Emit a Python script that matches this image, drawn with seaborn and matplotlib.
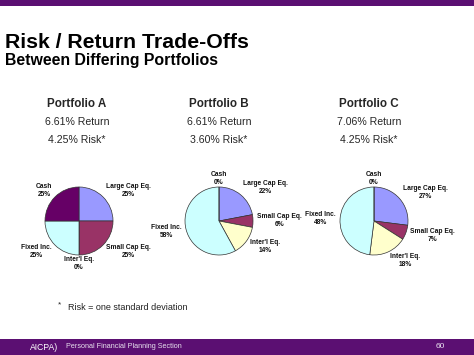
import numpy as np
import pandas as pd
from matplotlib import pyplot as plt
import seaborn as sns

# asset classes, clockwise from 12 o'clock
assets = ['Large Cap Eq.', 'Small Cap Eq.', "Inter'l Eq.", 'Fixed Inc.', 'Cash']
colors = ['#9999ff', '#993366', '#ffffcc', '#ccffff', '#660066']

portfolios = ['Portfolio A', 'Portfolio B', 'Portfolio C']
returns = ['6.61% Return', '6.61% Return', '7.06% Return']
risks = ['4.25% Risk*', '3.60% Risk*', '4.25% Risk*']
alloc_a = [25, 25, 0, 25, 25]
alloc_b = [22, 6, 14, 58, 0]
alloc_c = [27, 7, 18, 48, 0]

df = pd.DataFrame({'asset': assets, 'A': alloc_a, 'B': alloc_b, 'C': alloc_c})

sns.set_theme(style='white')
plt.rcParams['font.family'] = ['Liberation Sans', 'DejaVu Sans']

W, H = 474, 355
fig = plt.figure(figsize=(W / 100, H / 100), dpi=100)
fig.patch.set_facecolor('white')

purple = '#5b0f72'


def fx(x):
    return x / W


def fy(y):
    return 1 - y / H


# top and bottom bands
fig.add_artist(plt.Rectangle((0, fy(6)), 1, 6 / H, transform=fig.transFigure,
                             color=purple, lw=0))
fig.add_artist(plt.Rectangle((0, 0), 1, 16 / H, transform=fig.transFigure,
                             color=purple, lw=0))

fig.text(fx(5), fy(42), 'Risk / Return Trade-Offs', fontsize=15.3,
         fontweight='bold', va='center', ha='left', color='black')
fig.text(fx(5), fy(61), 'Between Differing Portfolios', fontsize=11.4,
         fontweight='bold', va='center', ha='left', color='black')

centers_x = [77, 219, 369]
pie_x = [79, 219, 374]
pie_y = 221
r = 34
half = 80

for i, col in enumerate(['A', 'B', 'C']):
    fig.text(fx(centers_x[i]), fy(104), portfolios[i], fontsize=8.4,
             fontweight='bold', ha='center', va='center')
    fig.text(fx(centers_x[i]), fy(122), returns[i], fontsize=7.6,
             ha='center', va='center')
    fig.text(fx(centers_x[i]), fy(140), risks[i], fontsize=7.6,
             ha='center', va='center')

    ax = fig.add_axes([fx(pie_x[i] - half), fy(pie_y + half),
                       2 * half / W, 2 * half / H])
    vals = df[col].values
    labels = [f'{a}\n{v}%' for a, v in zip(df['asset'], vals)]
    wedges, texts = ax.pie(vals, colors=colors, startangle=90,
                           counterclock=False, labels=labels,
                           labeldistance=1.12,
                           wedgeprops=dict(edgecolor='#333333', linewidth=0.5),
                           textprops=dict(fontsize=4.8, fontweight='bold',
                                          multialignment='center',
                                          color='#111111'))
    for t in texts:
        x, y = t.get_position()
        if abs(x) < 0.1:
            t.set_ha('center')
            t.set_position((x, y * 1.12))
        else:
            t.set_position((x, y * 1.15))
    lim = half / r
    ax.set_xlim(-lim, lim)
    ax.set_ylim(-lim, lim)
    ax.set_aspect('equal')
    ax.axis('off')

fig.text(fx(58), fy(305), '*', fontsize=6, ha='left', va='center',
         color='#222222')
fig.text(fx(68), fy(307), 'Risk = one standard deviation', fontsize=6.5,
         ha='left', va='center', color='#222222')

fig.text(fx(30), fy(347), 'AICPA)', fontsize=6.2, ha='left', va='center',
         color='white')
fig.text(fx(66), fy(347), 'Personal Financial Planning Section', fontsize=5.2,
         ha='left', va='center', color='#e8e0ee')
fig.text(fx(440), fy(347), '60', fontsize=6, ha='center', va='center',
         color='#e8e0ee')

fig.savefig('out.png', dpi=100, facecolor='white')
